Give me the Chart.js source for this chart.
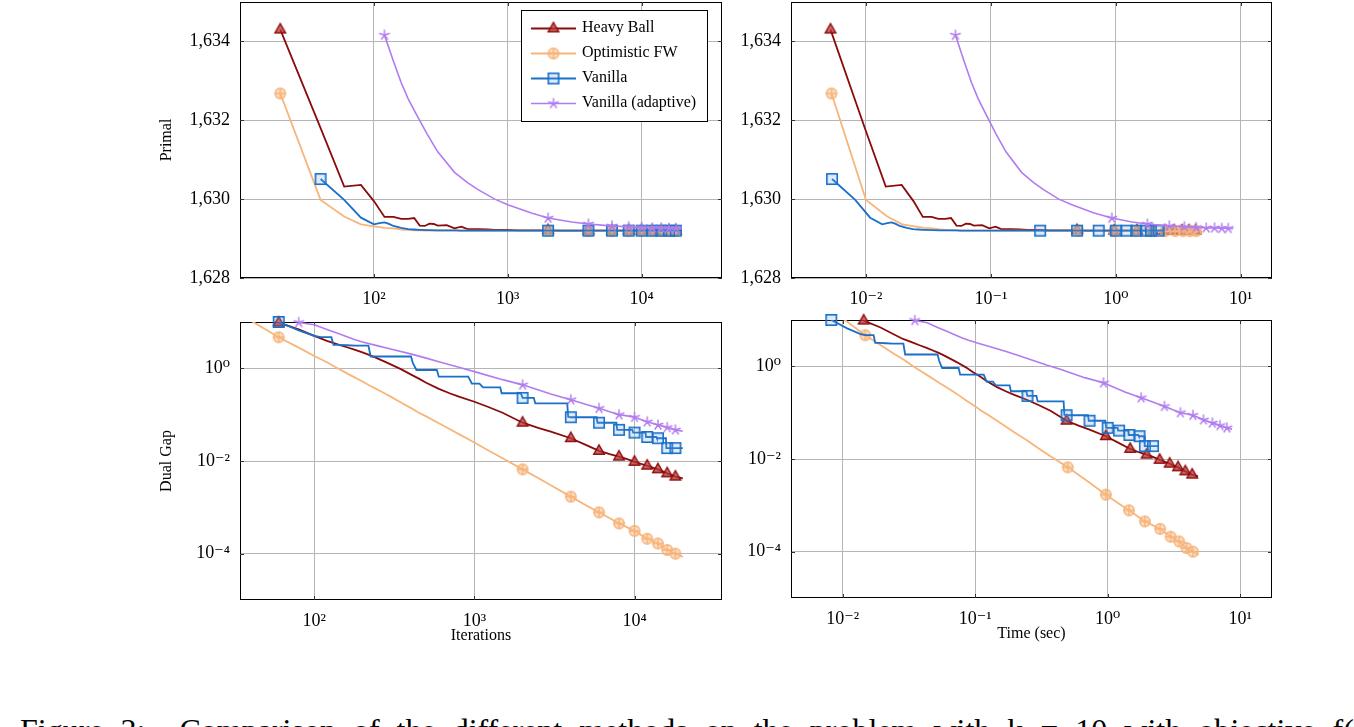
<!DOCTYPE html>
<html>
<head>
<meta charset="utf-8">
<script src="https://cdn.jsdelivr.net/npm/chart.js@4.4.1/dist/chart.umd.min.js"></script>
<style>
  html, body { margin: 0; padding: 0; background: #fff; width: 1354px; height: 727px; overflow: hidden; }
  canvas { position: absolute; }
  #caption { position: absolute; left: 20px; top: 714px; font: 32px 'Liberation Serif', serif; line-height: 1; white-space: nowrap; color: #000; word-spacing: 9px; }
</style>
</head>
<body>
<canvas id="cTL"></canvas>
<canvas id="cTR"></canvas>
<canvas id="cBL"></canvas>
<canvas id="cBR"></canvas>
<div id="caption">Figure 3:&nbsp; Comparison of the different methods on the problem with k = 10 with objective f(x) = ‖Ax − b‖²</div>
<script>
// ---------------- DATA ----------------
const seriesNames = ['Heavy Ball', 'Optimistic FW', 'Vanilla', 'Vanilla (adaptive)'];

const markIters = [2000, 4000, 6000, 8000, 10000, 12000, 14000, 16000, 18000];

const iterTicks = [100, 1000, 10000];
const timeTicks = [0.01, 0.1, 1, 10];
const primalTicks = [1628, 1630, 1632, 1634];
const gapTicks = [1e-4, 1e-2, 1];

// shared iteration grid for Heavy Ball and Optimistic FW
const gridIter = [20,40,60,80,100,120,140,160,180,200,220,240,260,280,300,350,400,450,500,600,700,800,1000,1200,1500,2000,2500,3000,4000,5000,6000,7000,8000,9000,10000,12000,14000,16000,18000,20000];

// Heavy Ball
const hbIter = gridIter;
const hbTime = [0.0052,0.0098,0.0144,0.0193,0.024,0.0285,0.0335,0.038,0.043,0.048,0.053,0.058,0.063,0.068,0.073,0.085,0.097,0.109,0.121,0.145,0.17,0.195,0.245,0.295,0.37,0.49,0.61,0.73,0.97,1.22,1.48,1.72,1.97,2.22,2.47,2.94,3.40,3.86,4.35,4.8];
const hbPrimal = [1634.30,1631.80,1630.32,1630.36,1629.95,1629.55,1629.55,1629.50,1629.50,1629.52,1629.33,1629.32,1629.38,1629.37,1629.33,1629.34,1629.26,1629.30,1629.24,1629.24,1629.23,1629.22,1629.22,1629.21,1629.21,1629.21,1629.20,1629.20,1629.20,1629.20,1629.20,1629.20,1629.20,1629.20,1629.20,1629.20,1629.20,1629.20,1629.20,1629.20];
const hbGap = [null,null,9.7,6.9,5.0,3.9,3.3,2.85,2.5,2.2,1.95,1.72,1.52,1.36,1.22,0.95,0.74,0.6,0.49,0.36,0.29,0.245,0.19,0.15,0.11,0.067,0.052,0.043,0.031,0.022,0.0165,0.014,0.0124,0.011,0.0096,0.0079,0.0066,0.0054,0.0046,0.0042];

// Optimistic FW
const ofwIter = gridIter;
const ofwTime = [0.0053,0.0100,0.0148,0.0195,0.0245,0.0293,0.034,0.039,0.044,0.049,0.054,0.059,0.064,0.069,0.074,0.086,0.099,0.111,0.123,0.148,0.172,0.197,0.247,0.296,0.37,0.50,0.62,0.74,0.97,1.21,1.45,1.68,1.91,2.2,2.49,2.99,3.47,3.93,4.40,4.85];
const ofwPrimal = [1632.68,1629.98,1629.56,1629.36,1629.31,1629.27,1629.26,1629.23,1629.22,1629.21,1629.21,1629.20,1629.20,1629.20,1629.20,1629.20,1629.20,1629.20,1629.20,1629.20,1629.20,1629.20,1629.20,1629.20,1629.20,1629.20,1629.20,1629.20,1629.19,1629.19,1629.19,1629.19,1629.19,1629.19,1629.19,1629.19,1629.19,1629.19,1629.19,1629.19];
const ofwGap = [null,10.8,4.7,2.8,1.85,1.35,1.0,0.78,0.63,0.52,0.43,0.37,0.32,0.28,0.245,0.18,0.14,0.11,0.092,0.065,0.049,0.038,0.025,0.0175,0.0115,0.0066,0.0043,0.003,0.0017,0.0011,0.00078,0.00058,0.00045,0.00037,0.00031,0.00021,0.000166,0.00012,0.0001,0.000085];

// Vanilla
const vanIter = [40,60,80,100,110,120,128,132,140,160,180,200,218,225,300,402,413,435,500,583,599,800,915,964,1075,1133,1450,1480,1950,2000,2350,2400,3000,3800,3850,4000,5000,5800,5870,6000,7000,7700,7800,8000,9000,9700,9800,10000,11700,11800,12000,13700,13800,14000,15700,15800,16000,18000,20000];
const vanTime = [0.00535,0.0082,0.0108,0.0135,0.0148,0.016,0.0171,0.0176,0.0186,0.0212,0.0238,0.0264,0.0287,0.0296,0.039,0.052,0.0535,0.0563,0.0645,0.075,0.077,0.102,0.116,0.122,0.136,0.143,0.182,0.186,0.243,0.248,0.29,0.296,0.37,0.465,0.471,0.49,0.61,0.71,0.72,0.73,0.86,0.96,0.975,1.0,1.11,1.19,1.2,1.22,1.43,1.44,1.46,1.70,1.72,1.74,1.89,1.90,1.91,2.2,2.4];
const vanPrimal = [1630.51,1629.98,1629.53,1629.36,1629.39,1629.41,1629.38,1629.36,1629.32,1629.27,1629.24,1629.23,1629.22,1629.22,1629.21,1629.21,1629.21,1629.20,1629.20,1629.20,1629.20,1629.20,1629.20,1629.20,1629.20,1629.20,1629.20,1629.20,1629.20,1629.20,1629.20,1629.20,1629.20,1629.20,1629.20,1629.20,1629.20,1629.20,1629.20,1629.20,1629.20,1629.20,1629.20,1629.20,1629.20,1629.20,1629.20,1629.20,1629.20,1629.20,1629.20,1629.20,1629.20,1629.20,1629.20,1629.20,1629.20,1629.20,1629.20];
const vanGap = [null,10,6.6,5.0,4.7,4.7,4.7,3.2,3.2,3.15,3.1,3.1,3.1,1.8,1.8,1.8,1.3,0.92,0.92,0.92,0.66,0.66,0.66,0.47,0.47,0.39,0.39,0.29,0.29,0.23,0.23,0.175,0.175,0.175,0.09,0.088,0.088,0.088,0.067,0.067,0.067,0.067,0.047,0.047,0.047,0.047,0.041,0.041,0.041,0.033,0.033,0.033,0.031,0.031,0.031,0.019,0.019,0.019,0.019];

// Vanilla (adaptive)
const vaIter = [20,40,60,80,100,120,140,160,180,200,250,300,400,500,600,800,1000,1500,2000,3000,4000,5000,6000,7000,8000,9000,10000,12000,14000,16000,18000,20000];
const vaTime = [0.009,0.018,0.026,0.035,0.0435,0.052,0.061,0.07,0.079,0.088,0.11,0.132,0.176,0.22,0.264,0.35,0.445,0.67,0.93,1.35,1.79,2.24,2.68,3.1,3.54,3.97,4.4,5.29,6.17,7.05,7.95,8.7];
const vaPrimal = [null,null,null,null,null,1634.16,1633.5,1632.95,1632.55,1632.25,1631.65,1631.2,1630.68,1630.42,1630.24,1630.0,1629.86,1629.65,1629.52,1629.42,1629.37,1629.34,1629.32,1629.31,1629.30,1629.29,1629.28,1629.27,1629.27,1629.26,1629.26,1629.25];
const vaGap = [null,null,null,9.8,8.7,6.9,5.7,4.8,4.15,3.7,3.05,2.62,2.05,1.66,1.39,1.05,0.85,0.57,0.44,0.28,0.21,0.165,0.137,0.115,0.100,0.094,0.088,0.070,0.060,0.053,0.047,0.044];

// ---------------- MARKER GLYPHS ----------------
function makeMarker(draw) {
  const c = document.createElement('canvas');
  c.width = 16; c.height = 16;
  const x = c.getContext('2d');
  draw(x, 8);
  return c;
}
const triMark = makeMarker((x, c) => {
  x.beginPath(); x.moveTo(c, c - 6); x.lineTo(c + 5.3, c + 3.2); x.lineTo(c - 5.3, c + 3.2); x.closePath();
  x.fillStyle = 'rgba(185,55,55,0.75)'; x.fill();
  x.strokeStyle = '#8b0a0a'; x.lineWidth = 1.4; x.stroke();
});
const oplusMark = makeMarker((x, c) => {
  x.beginPath(); x.arc(c, c, 5.2, 0, Math.PI * 2);
  x.fillStyle = 'rgba(250,195,140,0.55)'; x.fill();
  x.strokeStyle = '#f5b27a'; x.lineWidth = 1.4; x.stroke();
  x.beginPath(); x.moveTo(c - 5.2, c); x.lineTo(c + 5.2, c); x.moveTo(c, c - 5.2); x.lineTo(c, c + 5.2); x.stroke();
});
const squareMark = makeMarker((x, c) => {
  x.fillStyle = 'rgba(110,165,230,0.22)'; x.fillRect(c - 5.2, c - 5.2, 10.4, 10.4);
  x.strokeStyle = '#1a70c8'; x.lineWidth = 1.6; x.strokeRect(c - 5.2, c - 5.2, 10.4, 10.4);
});
const starMark = makeMarker((x, c) => {
  x.strokeStyle = '#b07cf0'; x.lineWidth = 1.4; x.beginPath();
  for (let k = 0; k < 5; k++) {
    const a = -Math.PI / 2 + k * 2 * Math.PI / 5;
    x.moveTo(c, c); x.lineTo(c + 5.6 * Math.cos(a), c + 5.6 * Math.sin(a));
  }
  x.stroke();
});

const SERIES = [
  { name: seriesNames[0], iter: hbIter, time: hbTime, primal: hbPrimal, gap: hbGap, color: '#8b0a0a', lw: 1.8, marker: triMark },
  { name: seriesNames[1], iter: ofwIter, time: ofwTime, primal: ofwPrimal, gap: ofwGap, color: '#f7b57a', lw: 1.8, marker: oplusMark },
  { name: seriesNames[2], iter: vanIter, time: vanTime, primal: vanPrimal, gap: vanGap, color: '#1a70c8', lw: 1.8, marker: squareMark },
  { name: seriesNames[3], iter: vaIter, time: vaTime, primal: vaPrimal, gap: vaGap, color: '#b07cf0', lw: 1.6, marker: starMark }
];

// ---------------- HELPERS ----------------
const SUP = { '-': '⁻', '0': '⁰', '1': '¹', '2': '²', '3': '³', '4': '⁴', '5': '⁵', '6': '⁶', '7': '⁷', '8': '⁸', '9': '⁹' };
function powLabel(v) {
  const e = Math.round(Math.log10(v));
  return '10' + String(e).split('').map(ch => SUP[ch]).join('');
}
function linePts(s, xKey, yKey) {
  return s[xKey].map((x, i) => ({ x: x, y: s[yKey][i] })).filter(p => p.y !== null);
}
function markPts(s, xKey, yKey, ymin, ymax) {
  const p = s[xKey].map((x, i) => ({ x: x, y: s[yKey][i], it: s.iter[i] }));
  const first = p.findIndex(q => q.y !== null && q.y >= ymin && q.y <= ymax);
  return p.filter((q, i) => q.y !== null && (i === first || markIters.includes(q.it))).map(q => ({ x: q.x, y: q.y }));
}
function zeroPad(s) { s.paddingTop = 0; s.paddingBottom = 0; s.paddingLeft = 0; s.paddingRight = 0; }

const TICK_FONT = { family: "'Liberation Serif', 'DejaVu Serif', serif", size: 18 };
const LABEL_FONT = { family: "'Liberation Serif', serif", size: 16 };

const framePlugin = {
  id: 'frame',
  beforeDatasetsDraw(chart) {
    const { ctx, chartArea: a, scales } = chart;
    ctx.save();
    ctx.strokeStyle = '#000'; ctx.lineWidth = 1;
    ctx.strokeRect(a.left + 0.5, a.top + 0.5, a.right - a.left - 1, a.bottom - a.top - 1);
    ctx.strokeStyle = '#333'; ctx.lineWidth = 1;
    ctx.beginPath();
    scales.x.ticks.forEach(t => {
      const px = Math.round(scales.x.getPixelForValue(t.value)) + 0.5;
      ctx.moveTo(px, a.bottom); ctx.lineTo(px, a.bottom - 4);
      ctx.moveTo(px, a.top); ctx.lineTo(px, a.top + 4);
    });
    scales.y.ticks.forEach(t => {
      const py = Math.round(scales.y.getPixelForValue(t.value)) + 0.5;
      ctx.moveTo(a.left, py); ctx.lineTo(a.left + 4, py);
      ctx.moveTo(a.right, py); ctx.lineTo(a.right - 4, py);
    });
    ctx.stroke();
    ctx.restore();
  }
};

const legendPlugin = {
  id: 'boxLegend',
  afterDatasetsDraw(chart) {
    const { ctx, chartArea: a } = chart;
    const w = 186, h = 111;
    const x0 = Math.round(a.right - 15 - w), y0 = Math.round(a.top + 8);
    ctx.save();
    ctx.fillStyle = '#fff'; ctx.fillRect(x0, y0, w, h);
    ctx.strokeStyle = '#000'; ctx.lineWidth = 1; ctx.strokeRect(x0 + 0.5, y0 + 0.5, w, h);
    SERIES.forEach((s, i) => {
      const y = y0 + 18.5 + 25 * i;
      ctx.strokeStyle = s.color; ctx.lineWidth = s.lw;
      ctx.beginPath(); ctx.moveTo(x0 + 10, y); ctx.lineTo(x0 + 55, y); ctx.stroke();
      ctx.drawImage(s.marker, x0 + 32.5 - 8, y - 8);
      ctx.fillStyle = '#000';
      ctx.font = "16px 'Liberation Serif', serif";
      ctx.textBaseline = 'middle'; ctx.textAlign = 'left';
      ctx.fillText(s.name, x0 + 61, y - 1);
    });
    ctx.restore();
  }
};

function makeChart(id, g) {
  const cv = document.getElementById(id);
  const W = g.yW + g.w + g.padR, H = g.padT + g.h + g.xH;
  cv.width = W; cv.height = H;
  cv.style.width = W + 'px'; cv.style.height = H + 'px';
  cv.style.left = (g.left - g.yW) + 'px';
  cv.style.top = (g.top - g.padT) + 'px';

  const datasets = [];
  SERIES.forEach((s, k) => {
    datasets.push({
      label: s.name,
      data: linePts(s, g.xKey, g.yKey),
      borderColor: s.color, borderWidth: s.lw,
      pointRadius: 0, fill: false, tension: 0, clip: 0,
      order: 8 - 2 * k
    });
    datasets.push({
      label: s.name + ' marks',
      data: markPts(s, g.xKey, g.yKey, g.yMin, g.yMax),
      showLine: false, pointStyle: s.marker, pointRadius: 6,
      borderColor: s.color, backgroundColor: s.color,
      clip: false, order: 7 - 2 * k
    });
  });

  const yIsLog = g.yKey === 'gap';
  new Chart(cv, {
    type: 'line',
    data: { datasets },
    options: {
      responsive: false, animation: false, devicePixelRatio: 1,
      layout: { autoPadding: false, padding: { left: 0, top: g.padT, right: g.padR, bottom: 0 } },
      plugins: { legend: { display: false }, tooltip: { enabled: false } },
      scales: {
        x: {
          type: 'logarithmic', position: 'bottom', min: g.xMin, max: g.xMax,
          afterBuildTicks: s => { s.ticks = g.xTicks.map(v => ({ value: v })); },
          afterFit: s => { s.height = g.xH; zeroPad(s); },
          grid: { color: '#b5b5b5', lineWidth: 1, drawTicks: false },
          border: { display: false },
          ticks: { autoSkip: false, maxRotation: 0, minRotation: 0, padding: 10, color: '#000', font: TICK_FONT, callback: v => powLabel(v) },
          title: { display: !!g.xTitle, text: g.xTitle || '', color: '#000', font: LABEL_FONT, padding: { top: 0, bottom: 5 } }
        },
        y: {
          type: yIsLog ? 'logarithmic' : 'linear', position: 'left', min: g.yMin, max: g.yMax,
          afterBuildTicks: s => { s.ticks = g.yTicks.map(v => ({ value: v })); },
          afterFit: s => { s.width = g.yW; zeroPad(s); },
          grid: { color: '#b5b5b5', lineWidth: 1, drawTicks: false },
          border: { display: false },
          ticks: { autoSkip: false, padding: 10, color: '#000', font: TICK_FONT,
                   callback: v => yIsLog ? powLabel(v) : Number(v).toLocaleString('en-US') },
          title: { display: !!g.yTitle, text: g.yTitle || '', color: '#000', font: LABEL_FONT, padding: { top: 7, bottom: 0 } }
        }
      }
    },
    plugins: g.legend ? [framePlugin, legendPlugin] : [framePlugin]
  });
}

function drawAll() {
  makeChart('cTL', { left: 240, top: 2, w: 482, h: 276, yW: 90, padT: 2, padR: 10, xH: 36,
    xKey: 'iter', yKey: 'primal', xMin: 10, xMax: 39811, yMin: 1628, yMax: 1635,
    xTicks: iterTicks, yTicks: primalTicks, yTitle: 'Primal', legend: true });
  makeChart('cTR', { left: 791, top: 2, w: 481, h: 276, yW: 60, padT: 2, padR: 10, xH: 36,
    xKey: 'time', yKey: 'primal', xMin: 0.00251, xMax: 17.8, yMin: 1628, yMax: 1635,
    xTicks: timeTicks, yTicks: primalTicks });
  makeChart('cBL', { left: 240, top: 322, w: 482, h: 278, yW: 90, padT: 10, padR: 10, xH: 50,
    xKey: 'iter', yKey: 'gap', xMin: 34.4, xMax: 35156, yMin: 1e-5, yMax: 10,
    xTicks: iterTicks, yTicks: gapTicks, yTitle: 'Dual Gap', xTitle: 'Iterations' });
  makeChart('cBR', { left: 791, top: 320, w: 481, h: 278, yW: 60, padT: 10, padR: 10, xH: 50,
    xKey: 'time', yKey: 'gap', xMin: 0.00407, xMax: 17.4, yMin: 1e-5, yMax: 10,
    xTicks: timeTicks, yTicks: gapTicks, xTitle: 'Time (sec)' });
}

if (document.fonts && document.fonts.load) {
  Promise.all([
    document.fonts.load("16px 'Liberation Serif'"),
    document.fonts.load("18px 'DejaVu Serif'")
  ]).then(drawAll, drawAll);
} else {
  drawAll();
}
</script>
</body>
</html>
